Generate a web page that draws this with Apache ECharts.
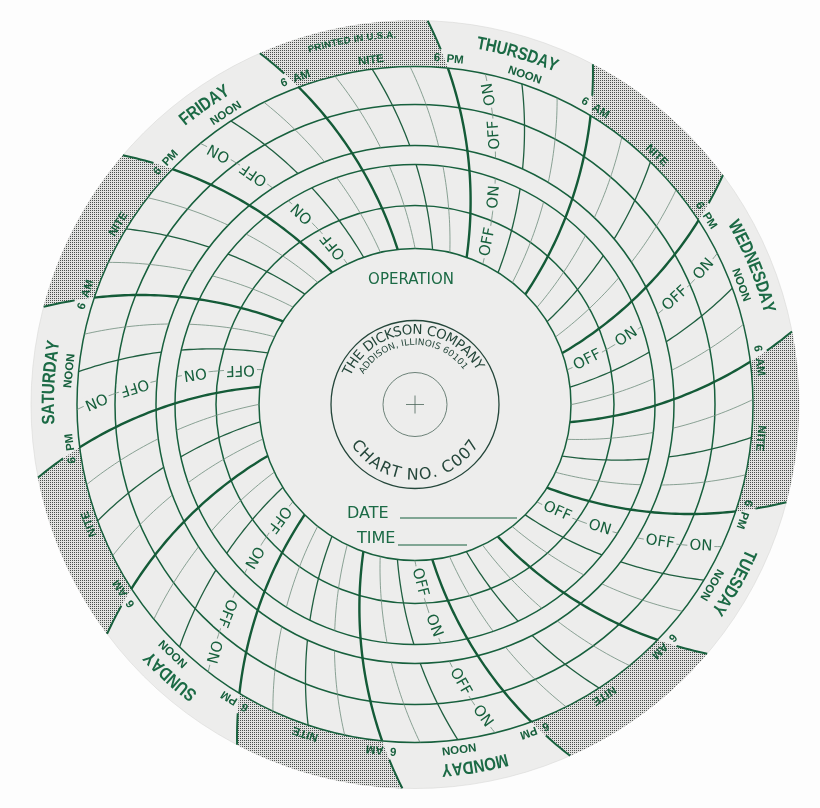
<!DOCTYPE html>
<html><head><meta charset="utf-8">
<script src="https://cdn.jsdelivr.net/npm/echarts@6/dist/echarts.min.js"></script>
<style>html,body{margin:0;padding:0;background:#fdfdfd}#c{width:820px;height:808px}</style>
</head><body><div id="c"></div>
<script>
// ---------------- data ----------------
const days = ['THURSDAY','FRIDAY','SATURDAY','SUNDAY','MONDAY','TUESDAY','WEDNESDAY'];
const hourLines = [0, 3, 6, 9, 12, 15, 18, 21];
const hourLineKinds = ['mid','thin','major','thin','mid','thin','major','thin'];
const ringRadii = [156, 199, 240, 259, 300, 338];
const bands = [[156, 240], [259, 338]];
const outerLabels = [
  {h: 0, text: 'NITE'}, {h: 6, text: '6  AM'}, {h: 12, text: 'NOON'}, {h: 18, text: '6  PM'}
];
const nightSpan = [18, 30];          // gray band: 6 PM -> next 6 AM
const dayNameHour = 13;
const switchHour = 15;               // OFF/ON marks on the 3 PM line
const switchLabels = [
  {r: 178, text: 'OFF'}, {r: 222, text: 'ON'}, {r: 281, text: 'OFF'}, {r: 319, text: 'ON'}
];
const printedLabel = {text: 'PRINTED IN U.S.A.', hour: 25.2, r: 370};
const centerTexts = [
  {text: 'OPERATION', dx: -4, dy: -124, font: '15px "DejaVu Sans"', align: 'center'},
  {text: 'DATE', dx: -68, dy: 109, font: '16px "DejaVu Sans"', align: 'left'},
  {text: 'TIME', dx: -58, dy: 134, font: '16px "DejaVu Sans"', align: 'left'}
];
const underlines = [{x1: -15, x2: 102, dy: 113.5}, {x1: -17, x2: 52, dy: 140.5}];
const arcTexts = [
  {text: 'THE DICKSON COMPANY', r: 74, phi: -2.5, font: '13.5px "DejaVu Sans"', spacing: 0, ccw: false},
  {text: 'ADDISON, ILLINOIS 60101', r: 62, phi: -2.5, font: '9px "DejaVu Sans"', spacing: 0.3, ccw: false},
  {text: 'CHART NO. C007', r: 71, phi: 180, font: '16px "DejaVu Sans"', spacing: 0.6, ccw: true}
];

// ---------------- geometry / style ----------------
const CENTER = [415, 404.5], PAPER_R = 384;
const HOURS = 168, DPH = 360 / HOURS;
const START_ANGLE = 45.85;                 // math angle of hour 0
const ZERO_CW = 90 - START_ANGLE;
const ARM = 400, R_REF = 338;              // pen arm arc radius
const PAPER = '#ededec';
const GREEN = '#17603d', GREEN_TXT = '#1b6a45', DARK = '#24463a';
const lineStyles = {major: {w: 2.4, c: '#145b38'}, mid: {w: 1.3, c: '#1f5f40'}, thin: {w: 0.8, c: '#6f8d7c'}};

const pat = document.createElement('canvas'); pat.width = 2; pat.height = 2;
(function(){ const g = pat.getContext('2d'); g.fillStyle = '#e2e2e1'; g.fillRect(0,0,2,2);
  g.fillStyle = '#4a4f4c'; g.fillRect(0,0,1,1); })();
const mctx = document.createElement('canvas').getContext('2d');
function charWidths(text, font){ mctx.font = font; return Array.from(text).map(c => mctx.measureText(c).width); }

function wrap(v){ return ((v % HOURS) + HOURS) % HOURS; }
function lineV(t, r){ const d = (Math.acos(Math.min(1, r/(2*ARM))) - Math.acos(R_REF/(2*ARM))) * 180/Math.PI; return t - d/DPH; }
function pt(api, r, v){ return api.coord([r, wrap(v)]); }
function phiOf(p, c){ return Math.atan2(p[0]-c[0], -(p[1]-c[1])); }
function phiToV(phi){ return (ZERO_CW - phi) / DPH; }
function linePts(api, t, r1, r2){
  const pts = []; const n = Math.max(1, Math.ceil(Math.abs(r2-r1)/4));
  for (let k = 0; k <= n; k++){ const r = r1 + (r2-r1)*k/n; pts.push(pt(api, r, lineV(t, r))); }
  return pts;
}
function arcText(api, c, text, font, r, vc, opt){
  const sx = opt.scaleX || 1, sp = opt.spacing || 0, ccw = !!opt.ccw;
  const ws = charWidths(text, font).map(w => w*sx);
  const total = ws.reduce((a,b)=>a+b, 0) + sp*(ws.length-1);
  const hpp = 180/Math.PI/r/DPH;
  let cum = 0; const out = [];
  Array.from(text).forEach((ch, k) => {
    const off = cum + ws[k]/2 - total/2; cum += ws[k] + sp;
    if (ch === ' ') return;
    const v = ccw ? vc + off*hpp : vc - off*hpp;
    const p = pt(api, r, v); const phi = phiOf(p, c);
    out.push({type: 'text', x: p[0], y: p[1], rotation: ccw ? Math.PI - phi : -phi, scaleX: sx,
      style: {text: ch, font: font, fill: opt.color, align: 'center', verticalAlign: 'middle'}});
  });
  return out;
}
function cs(data, renderItem){ return {type: 'custom', coordinateSystem: 'polar', data, renderItem, silent: true, animation: false, clip: false}; }

// paper
const paperSeries = cs([[0, 0]], (params, api) => {
  const c = api.coord([0, 0]); const p = pt(api, PAPER_R, 0);
  return {type: 'circle', shape: {cx: c[0], cy: c[1], r: Math.hypot(p[0]-c[0], p[1]-c[1])}, style: {fill: PAPER, stroke: '#d8d8d6', lineWidth: 0.6}};
});
// night (gray) sectors
const R_OUT = ringRadii[ringRadii.length - 1];
const nightSeries = cs(days.map((d, i) => [R_OUT, 24*i + nightSpan[0]]), (params, api) => {
  const i = params.dataIndex; const t0 = 24*i + nightSpan[0], t1 = 24*i + nightSpan[1];
  const pts = [];
  for (let v = t0; v <= t1 + 1e-9; v += 0.25) pts.push(pt(api, R_OUT, v));
  linePts(api, t1, R_OUT, PAPER_R).forEach(p => pts.push(p));
  const a1 = lineV(t1, PAPER_R), a0 = lineV(t0, PAPER_R);
  for (let v = a1; v >= a0 - 1e-9; v -= 0.25) pts.push(pt(api, PAPER_R, v));
  linePts(api, t0, PAPER_R, R_OUT).forEach(p => pts.push(p));
  return {type: 'group', children: [
    {type: 'polygon', shape: {points: pts}, style: {fill: {image: pat, repeat: 'repeat'}}},
    {type: 'polyline', shape: {points: linePts(api, t0, 356, PAPER_R)}, style: {stroke: GREEN, lineWidth: 2, fill: 'none'}},
    {type: 'polyline', shape: {points: linePts(api, t1, 356, PAPER_R)}, style: {stroke: GREEN, lineWidth: 2, fill: 'none'}}
  ]};
});
// rings
const ringSeries = cs(ringRadii.map(r => [r, 0]), (params, api) => {
  const c = api.coord([0, 0]); const p = pt(api, ringRadii[params.dataIndex], 0);
  return {type: 'circle', shape: {cx: c[0], cy: c[1], r: Math.hypot(p[0]-c[0], p[1]-c[1])}, style: {fill: 'none', stroke: GREEN, lineWidth: 1.5}};
});
// time lines
const tlData = []; days.forEach((d, i) => hourLines.forEach((h, j) => tlData.push([R_OUT, 24*i + h, j])));
const timeSeries = cs(tlData, (params, api) => {
  const t = api.value(1); const kind = hourLineKinds[api.value(2)]; const st = lineStyles[kind];
  const segs = kind === 'major' ? [[bands[0][0], bands[1][1]]] : bands;
  return {type: 'group', children: segs.map(s => ({type: 'polyline', shape: {points: linePts(api, t, s[0], s[1])},
    style: {stroke: st.c, lineWidth: st.w, fill: 'none'}}))};
});
// OFF / ON marks
const swData = []; days.forEach((d, i) => switchLabels.forEach((s, j) => swData.push([s.r, 24*i + switchHour, j])));
const switchSeries = cs(swData, (params, api) => {
  const t = api.value(1), s = switchLabels[api.value(2)], r = s.r;
  const p = pt(api, r, lineV(t, r)), a = pt(api, r-5, lineV(t, r-5)), b = pt(api, r+5, lineV(t, r+5));
  const ang = Math.atan2(b[1]-a[1], b[0]-a[0]);
  return {type: 'text', x: p[0], y: p[1], rotation: -ang,
    style: {text: s.text, font: '15px "DejaVu Sans"', fill: GREEN, align: 'center', verticalAlign: 'middle', backgroundColor: PAPER, padding: [0, 2]}};
});
// outer band small labels
const olData = []; days.forEach((d, i) => outerLabels.forEach((o, j) => olData.push([347, 24*i + o.h, j])));
const outerSeries = cs(olData, (params, api) => {
  const c = api.coord([0, 0]); const p = pt(api, 347, api.value(1));
  return {type: 'text', x: p[0], y: p[1], rotation: -phiOf(p, c),
    style: {text: outerLabels[api.value(2)].text, font: 'bold 11.5px "Liberation Sans"', fill: GREEN, align: 'center', verticalAlign: 'middle'}};
});
// day names
const dayNameSeries = cs(days.map((d, i) => [366, 24*i + dayNameHour]), (params, api) => {
  const c = api.coord([0, 0]);
  return {type: 'group', children: arcText(api, c, days[params.dataIndex], 'bold 18px "Liberation Sans"', 366, api.value(1), {scaleX: 0.84, color: GREEN_TXT})};
});
// printed in usa
const printedSeries = cs([[printedLabel.r, printedLabel.hour]], (params, api) => {
  const c = api.coord([0, 0]);
  return {type: 'group', children: arcText(api, c, printedLabel.text, 'bold 9.5px "Liberation Sans"', printedLabel.r, printedLabel.hour, {color: GREEN, spacing: 0.3})};
});
// center disk
const centerSeries = cs([[0, 0]], (params, api) => {
  const c = api.coord([0, 0]); const kids = [];
  const rad = r => { const p = pt(api, r, 0); return Math.hypot(p[0]-c[0], p[1]-c[1]); };
  kids.push({type: 'circle', shape: {cx: c[0], cy: c[1], r: rad(84)}, style: {fill: 'none', stroke: DARK, lineWidth: 1.3}});
  kids.push({type: 'circle', shape: {cx: c[0], cy: c[1], r: rad(32)}, style: {fill: 'none', stroke: '#4b665a', lineWidth: 0.8}});
  kids.push({type: 'line', shape: {x1: c[0]-9, y1: c[1], x2: c[0]+9, y2: c[1]}, style: {stroke: '#4b665a', lineWidth: 0.8}});
  kids.push({type: 'line', shape: {x1: c[0], y1: c[1]-9, x2: c[0], y2: c[1]+9}, style: {stroke: '#4b665a', lineWidth: 0.8}});
  arcTexts.forEach(a => arcText(api, c, a.text, a.font, a.r, phiToV(a.phi), {spacing: a.spacing, ccw: a.ccw, color: DARK}).forEach(k => kids.push(k)));
  centerTexts.forEach(t => kids.push({type: 'text', x: c[0] + t.dx, y: c[1] + t.dy,
    style: {text: t.text, font: t.font, fill: GREEN_TXT, align: t.align, verticalAlign: 'middle'}}));
  underlines.forEach(u => kids.push({type: 'line', shape: {x1: c[0]+u.x1, y1: c[1]+u.dy, x2: c[0]+u.x2, y2: c[1]+u.dy}, style: {stroke: GREEN, lineWidth: 1.1}}));
  return {type: 'group', children: kids};
});

const chart = echarts.init(document.getElementById('c'), null, {renderer: 'canvas', width: 820, height: 808});
chart.setOption({
  backgroundColor: '#fdfdfd',
  animation: false,
  polar: {center: CENTER, radius: PAPER_R},
  angleAxis: {type: 'value', min: 0, max: HOURS, startAngle: START_ANGLE, clockwise: false,
    axisLine: {show: false}, axisTick: {show: false}, axisLabel: {show: false}, splitLine: {show: false}},
  radiusAxis: {type: 'value', min: 0, max: PAPER_R,
    axisLine: {show: false}, axisTick: {show: false}, axisLabel: {show: false}, splitLine: {show: false}},
  series: [paperSeries, nightSeries, ringSeries, timeSeries, switchSeries, outerSeries, dayNameSeries, printedSeries, centerSeries]
});
</script></body></html>
